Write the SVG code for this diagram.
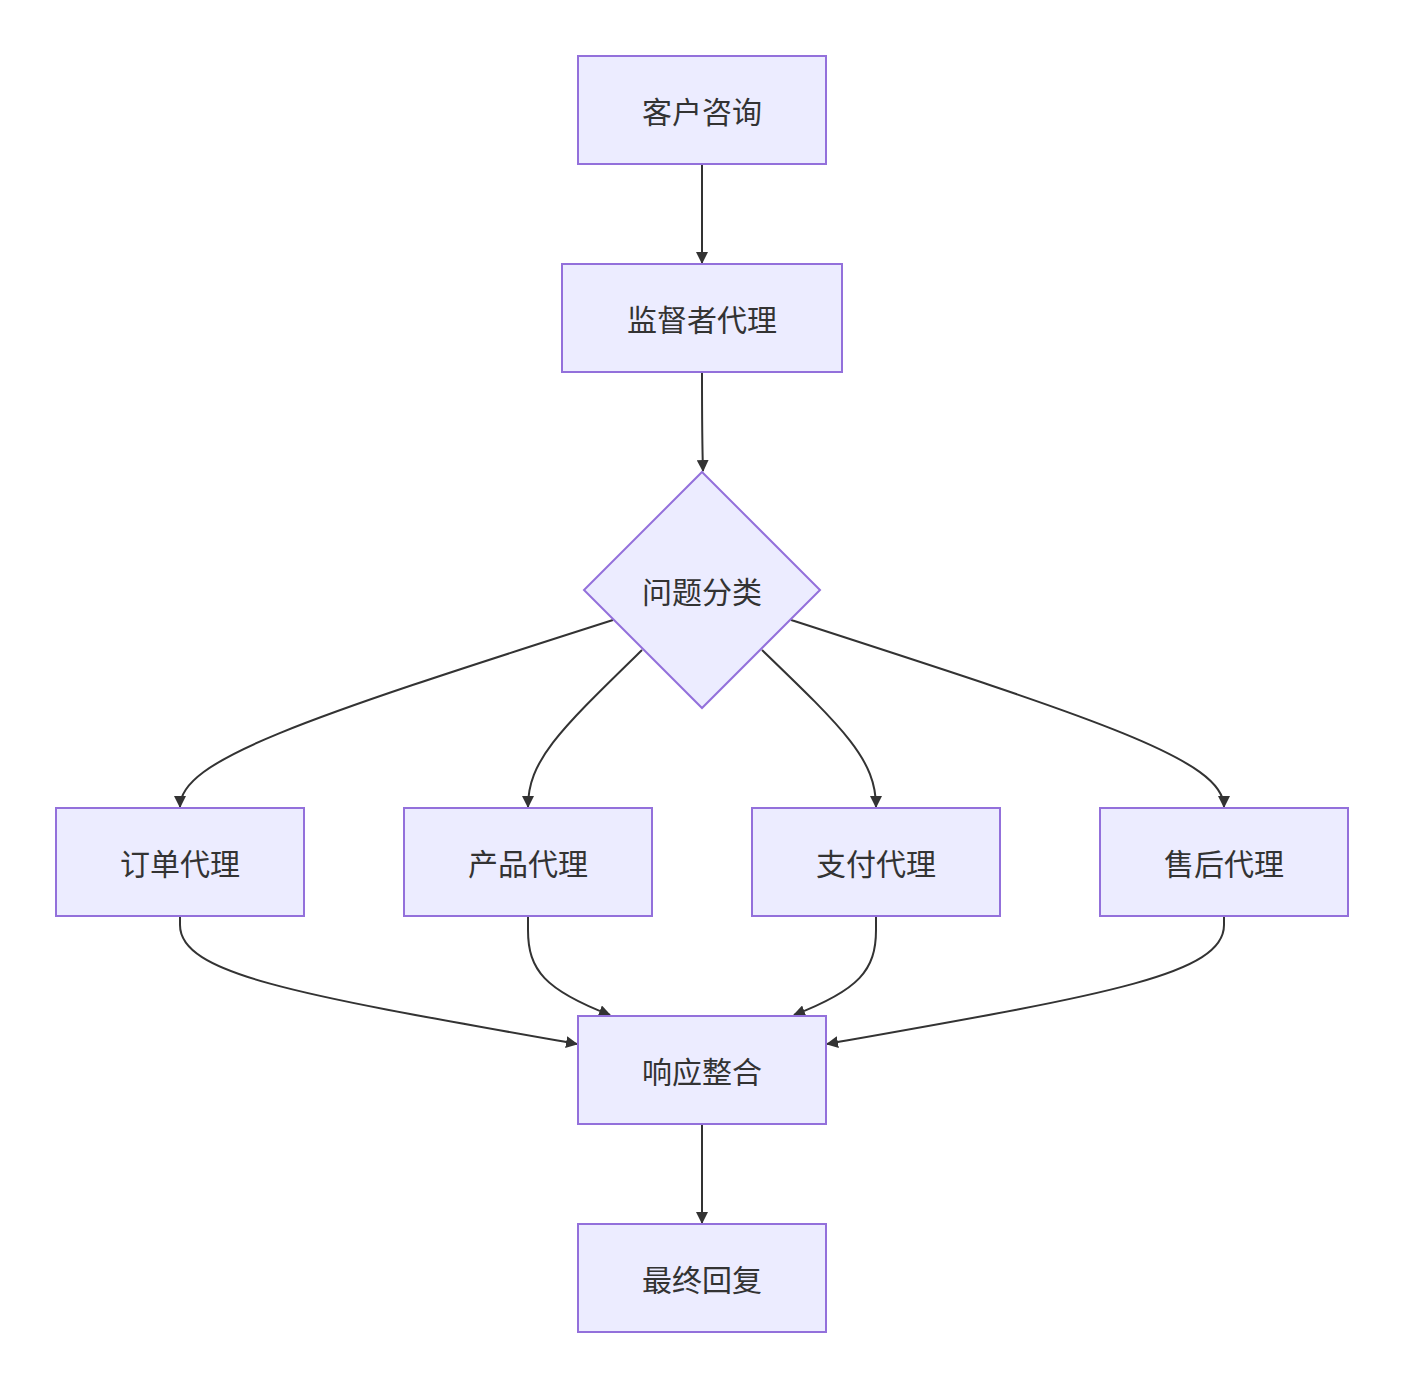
<svg xmlns="http://www.w3.org/2000/svg" width="1404" height="1388" viewBox="0 0 1404 1388">
<style>
.n{fill:#ECECFF;stroke:#9370DB;stroke-width:2}
.t{font-family:"Noto Sans CJK SC","Liberation Sans",sans-serif;font-size:30px;fill:#333;text-anchor:middle;dominant-baseline:central}
.e{fill:none;stroke:#333;stroke-width:2;marker-end:url(#a)}
</style>
<defs><marker id="a" viewBox="0 0 12 12" refX="11" refY="6" markerWidth="12" markerHeight="12" markerUnits="userSpaceOnUse" orient="auto"><path d="M0,0L12,6L0,12z" fill="#333"/></marker></defs>
<rect width="1404" height="1388" fill="#fff"/>
<g id="edges">
<path class="e" d="M702,164L702,263"/>
<path class="e" d="M702,372C702,420 702,440 703,471"/>
<path class="e" d="M613,620C300,720 180,760 180,807"/>
<path class="e" d="M642,650C560,730 528,760 528,807"/>
<path class="e" d="M762,650C845,730 876,760 876,807"/>
<path class="e" d="M791,620C1100,720 1224,760 1224,807"/>
<path class="e" d="M180,916L180,925C180,975 300,995 577,1044"/>
<path class="e" d="M528,916L528,930C528,970 545,990 610,1015"/>
<path class="e" d="M876,916L876,930C876,970 859,990 794,1015"/>
<path class="e" d="M1224,916L1224,925C1224,975 1104,995 827,1044"/>
<path class="e" d="M702,1124L702,1223"/>
</g>
<g id="n1"><rect class="n" x="578" y="56" width="248" height="108"/><text class="t" x="702" y="110">客户咨询</text></g>
<g id="n2"><rect class="n" x="562" y="264" width="280" height="108"/><text class="t" x="702" y="318">监督者代理</text></g>
<g id="n3"><path class="n" d="M702,472L820,590L702,708L584,590z"/><text class="t" x="702" y="590">问题分类</text></g>
<g id="n4"><rect class="n" x="56" y="808" width="248" height="108"/><text class="t" x="180" y="862">订单代理</text></g>
<g id="n5"><rect class="n" x="404" y="808" width="248" height="108"/><text class="t" x="528" y="862">产品代理</text></g>
<g id="n6"><rect class="n" x="752" y="808" width="248" height="108"/><text class="t" x="876" y="862">支付代理</text></g>
<g id="n7"><rect class="n" x="1100" y="808" width="248" height="108"/><text class="t" x="1224" y="862">售后代理</text></g>
<g id="n8"><rect class="n" x="578" y="1016" width="248" height="108"/><text class="t" x="702" y="1070">响应整合</text></g>
<g id="n9"><rect class="n" x="578" y="1224" width="248" height="108"/><text class="t" x="702" y="1278">最终回复</text></g>
</svg>
